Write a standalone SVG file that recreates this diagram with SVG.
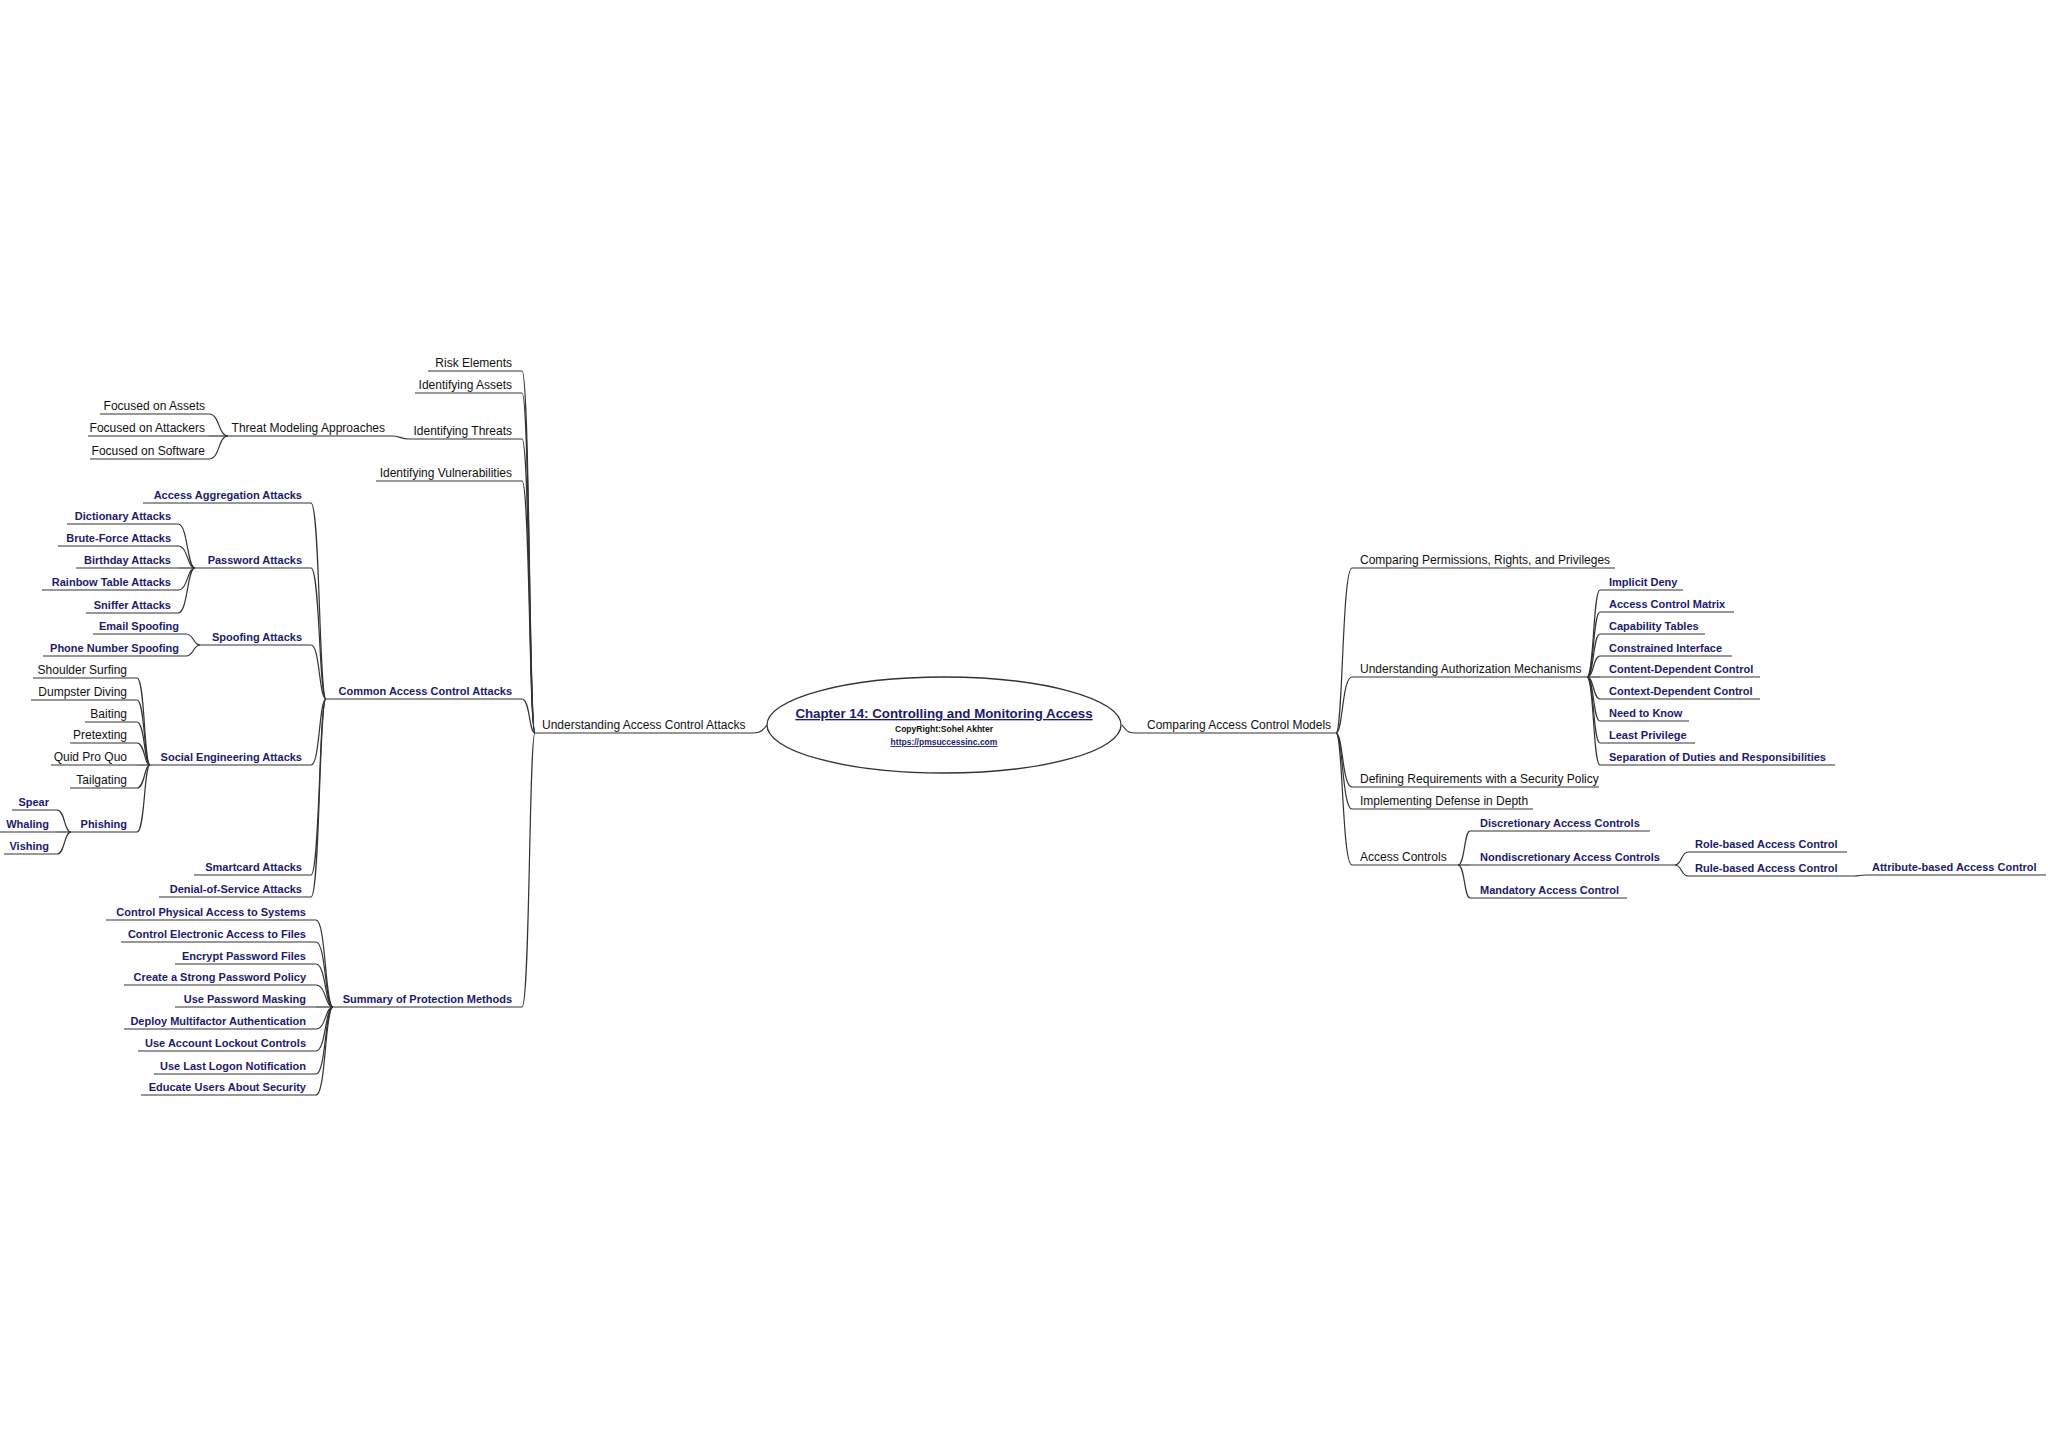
<svg xmlns="http://www.w3.org/2000/svg" width="2048" height="1448" viewBox="0 0 2048 1448">
<style>
text{font-family:"Liberation Sans",Arial,sans-serif}
.n{font-size:12px;fill:#111}
.b{font-size:11px;font-weight:bold;fill:#1b1b6b}
.l{text-anchor:end}
.u{stroke:#333;stroke-width:1.2;fill:none}
.c path{stroke:#333;stroke-width:1.2;fill:none}
</style>
<rect width="2048" height="1448" fill="#fff"/>
<g id="root">
<ellipse cx="944" cy="725" rx="177" ry="48" fill="#fff" stroke="#333" stroke-width="1.3"/>
<text x="944" y="718" text-anchor="middle" font-size="13.3" font-weight="bold" fill="#1b1b6b" text-decoration="underline">Chapter 14: Controlling and Monitoring Access</text>
<text x="944" y="732" text-anchor="middle" font-size="8.5" font-weight="bold" fill="#111">CopyRight:Sohel Akhter</text>
<text x="944" y="745" text-anchor="middle" font-size="8.5" font-weight="bold" fill="#1b1b6b" text-decoration="underline">https://pmsuccessinc.com</text>
</g>
<g class="c" id="connectors">
<path d="M767,725 C761,733 758,733 750,733"/>
<path d="M1122,725 C1128,733 1130,733 1136,733"/>
<path d="M522,371 C530,371 529,733 535,733"/>
<path d="M522,393 C530,393 529,733 535,733"/>
<path d="M522,439 C530,439 529,733 535,733"/>
<path d="M522,481 C530,481 529,733 535,733"/>
<path d="M522,699 C530,699 529,733 535,733"/>
<path d="M522,1007 C530,1007 529,733 535,733"/>
<path d="M392,436 C400,436 400,439 409,439"/>
<path d="M209,414 C220,414 218,436 228,436"/>
<path d="M209,436 L228,436"/>
<path d="M209,459 C220,459 218,436 228,436"/>
<path d="M311,503 C320,503 319,699 326,699"/>
<path d="M311,568 C320,568 319,699 326,699"/>
<path d="M311,645 C320,645 319,699 326,699"/>
<path d="M311,765 C320,765 319,699 326,699"/>
<path d="M311,875 C320,875 319,699 326,699"/>
<path d="M311,897 C320,897 319,699 326,699"/>
<path d="M178,524 C188,524 187,568 195,568"/>
<path d="M178,546 C188,546 187,568 195,568"/>
<path d="M178,568 L195,568"/>
<path d="M178,590 C188,590 187,568 195,568"/>
<path d="M178,613 C188,613 187,568 195,568"/>
<path d="M186,634 C194,634 193,645 200,645"/>
<path d="M186,656 C194,656 193,645 200,645"/>
<path d="M137,678 C145,678 144,765 150,765"/>
<path d="M137,700 C145,700 144,765 150,765"/>
<path d="M137,722 C145,722 144,765 150,765"/>
<path d="M137,743 C145,743 144,765 150,765"/>
<path d="M137,765 L150,765"/>
<path d="M137,788 C145,788 144,765 150,765"/>
<path d="M137,832 C145,832 144,765 150,765"/>
<path d="M57,810 C65,810 64,832 71,832"/>
<path d="M57,832 L71,832"/>
<path d="M57,854 C65,854 64,832 71,832"/>
<path d="M316,920 C326,920 325,1007 333,1007"/>
<path d="M316,942 C326,942 325,1007 333,1007"/>
<path d="M316,964 C326,964 325,1007 333,1007"/>
<path d="M316,985 C326,985 325,1007 333,1007"/>
<path d="M316,1007 L333,1007"/>
<path d="M316,1029 C326,1029 325,1007 333,1007"/>
<path d="M316,1051 C326,1051 325,1007 333,1007"/>
<path d="M316,1074 C326,1074 325,1007 333,1007"/>
<path d="M316,1095 C326,1095 325,1007 333,1007"/>
<path d="M1336,733 C1343,733 1342,568 1352,568"/>
<path d="M1336,733 C1343,733 1342,677 1352,677"/>
<path d="M1336,733 C1343,733 1342,787 1352,787"/>
<path d="M1336,733 C1343,733 1342,809 1352,809"/>
<path d="M1336,733 C1343,733 1342,865 1352,865"/>
<path d="M1587,677 C1594,677 1593,590 1600,590"/>
<path d="M1587,677 C1594,677 1593,612 1600,612"/>
<path d="M1587,677 C1594,677 1593,634 1600,634"/>
<path d="M1587,677 C1594,677 1593,656 1600,656"/>
<path d="M1587,677 L1600,677"/>
<path d="M1587,677 C1594,677 1593,699 1600,699"/>
<path d="M1587,677 C1594,677 1593,721 1600,721"/>
<path d="M1587,677 C1594,677 1593,743 1600,743"/>
<path d="M1587,677 C1594,677 1593,765 1600,765"/>
<path d="M1458,865 C1465,865 1464,831 1470,831"/>
<path d="M1458,865 L1470,865"/>
<path d="M1458,865 C1465,865 1464,898 1470,898"/>
<path d="M1675,865 C1682,865 1681,852 1688,852"/>
<path d="M1675,865 C1682,865 1681,876 1688,876"/>
<path d="M1854,876 C1860,876 1860,875 1866,875"/>
</g>
<g id="n-uaca"><text class="n" x="542" y="729">Understanding Access Control Attacks</text><path class="u" d="M535,733 H750"/></g>
<g id="n-risk"><text class="n l" x="512" y="367">Risk Elements</text><path class="u" d="M428,371 H522"/></g>
<g id="n-assets"><text class="n l" x="512" y="389">Identifying Assets</text><path class="u" d="M415,393 H522"/></g>
<g id="n-threats"><text class="n l" x="512" y="435">Identifying Threats</text><path class="u" d="M409,439 H522"/></g>
<g id="n-vuln"><text class="n l" x="512" y="477">Identifying Vulnerabilities</text><path class="u" d="M376,481 H522"/></g>
<g id="n-tma"><text class="n l" x="385" y="432">Threat Modeling Approaches</text><path class="u" d="M228,436 H392"/></g>
<g id="n-fa1"><text class="n l" x="205" y="410">Focused on Assets</text><path class="u" d="M100,414 H209"/></g>
<g id="n-fa2"><text class="n l" x="205" y="432">Focused on Attackers</text><path class="u" d="M88,436 H209"/></g>
<g id="n-fa3"><text class="n l" x="205" y="455">Focused on Software</text><path class="u" d="M90,459 H209"/></g>
<g id="n-caca"><text class="b l" x="512" y="695">Common Access Control Attacks</text><path class="u" d="M326,699 H522"/></g>
<g id="n-aaa"><text class="b l" x="302" y="499">Access Aggregation Attacks</text><path class="u" d="M143,503 H311"/></g>
<g id="n-pwd"><text class="b l" x="302" y="564">Password Attacks</text><path class="u" d="M195,568 H311"/></g>
<g id="n-dict"><text class="b l" x="171" y="520">Dictionary Attacks</text><path class="u" d="M67,524 H178"/></g>
<g id="n-brute"><text class="b l" x="171" y="542">Brute-Force Attacks</text><path class="u" d="M58,546 H178"/></g>
<g id="n-bday"><text class="b l" x="171" y="564">Birthday Attacks</text><path class="u" d="M76,568 H178"/></g>
<g id="n-rain"><text class="b l" x="171" y="586">Rainbow Table Attacks</text><path class="u" d="M42,590 H178"/></g>
<g id="n-sniff"><text class="b l" x="171" y="609">Sniffer Attacks</text><path class="u" d="M86,613 H178"/></g>
<g id="n-spoof"><text class="b l" x="302" y="641">Spoofing Attacks</text><path class="u" d="M200,645 H311"/></g>
<g id="n-email"><text class="b l" x="179" y="630">Email Spoofing</text><path class="u" d="M93,634 H186"/></g>
<g id="n-phone"><text class="b l" x="179" y="652">Phone Number Spoofing</text><path class="u" d="M43,656 H186"/></g>
<g id="n-social"><text class="b l" x="302" y="761">Social Engineering Attacks</text><path class="u" d="M150,765 H311"/></g>
<g id="n-shoulder"><text class="n l" x="127" y="674">Shoulder Surfing</text><path class="u" d="M33,678 H137"/></g>
<g id="n-dump"><text class="n l" x="127" y="696">Dumpster Diving</text><path class="u" d="M31,700 H137"/></g>
<g id="n-bait"><text class="n l" x="127" y="718">Baiting</text><path class="u" d="M85,722 H137"/></g>
<g id="n-pretext"><text class="n l" x="127" y="739">Pretexting</text><path class="u" d="M70,743 H137"/></g>
<g id="n-quid"><text class="n l" x="127" y="761">Quid Pro Quo</text><path class="u" d="M51,765 H137"/></g>
<g id="n-tail"><text class="n l" x="127" y="784">Tailgating</text><path class="u" d="M70,788 H137"/></g>
<g id="n-phish"><text class="b l" x="127" y="828">Phishing</text><path class="u" d="M71,832 H137"/></g>
<g id="n-spear"><text class="b l" x="49" y="806">Spear</text><path class="u" d="M12,810 H57"/></g>
<g id="n-whal"><text class="b l" x="49" y="828">Whaling</text><path class="u" d="M0,832 H57"/></g>
<g id="n-vish"><text class="b l" x="49" y="850">Vishing</text><path class="u" d="M4,854 H57"/></g>
<g id="n-smart"><text class="b l" x="302" y="871">Smartcard Attacks</text><path class="u" d="M194,875 H311"/></g>
<g id="n-dos"><text class="b l" x="302" y="893">Denial-of-Service Attacks</text><path class="u" d="M159,897 H311"/></g>
<g id="n-summary"><text class="b l" x="512" y="1003">Summary of Protection Methods</text><path class="u" d="M333,1007 H522"/></g>
<g id="n-s1"><text class="b l" x="306" y="916">Control Physical Access to Systems</text><path class="u" d="M106,920 H316"/></g>
<g id="n-s2"><text class="b l" x="306" y="938">Control Electronic Access to Files</text><path class="u" d="M121,942 H316"/></g>
<g id="n-s3"><text class="b l" x="306" y="960">Encrypt Password Files</text><path class="u" d="M175,964 H316"/></g>
<g id="n-s4"><text class="b l" x="306" y="981">Create a Strong Password Policy</text><path class="u" d="M124,985 H316"/></g>
<g id="n-s5"><text class="b l" x="306" y="1003">Use Password Masking</text><path class="u" d="M175,1007 H316"/></g>
<g id="n-s6"><text class="b l" x="306" y="1025">Deploy Multifactor Authentication</text><path class="u" d="M124,1029 H316"/></g>
<g id="n-s7"><text class="b l" x="306" y="1047">Use Account Lockout Controls</text><path class="u" d="M138,1051 H316"/></g>
<g id="n-s8"><text class="b l" x="306" y="1070">Use Last Logon Notification</text><path class="u" d="M154,1074 H316"/></g>
<g id="n-s9"><text class="b l" x="306" y="1091">Educate Users About Security</text><path class="u" d="M141,1095 H316"/></g>
<g id="n-cacm"><text class="n" x="1147" y="729">Comparing Access Control Models</text><path class="u" d="M1136,733 H1336"/></g>
<g id="n-cprp"><text class="n" x="1360" y="564">Comparing Permissions, Rights, and Privileges</text><path class="u" d="M1352,568 H1615"/></g>
<g id="n-uam"><text class="n" x="1360" y="673">Understanding Authorization Mechanisms</text><path class="u" d="M1352,677 H1587"/></g>
<g id="n-id"><text class="b" x="1609" y="586">Implicit Deny</text><path class="u" d="M1600,590 H1683"/></g>
<g id="n-acm"><text class="b" x="1609" y="608">Access Control Matrix</text><path class="u" d="M1600,612 H1734"/></g>
<g id="n-cap"><text class="b" x="1609" y="630">Capability Tables</text><path class="u" d="M1600,634 H1705"/></g>
<g id="n-ci"><text class="b" x="1609" y="652">Constrained Interface</text><path class="u" d="M1600,656 H1732"/></g>
<g id="n-cdc"><text class="b" x="1609" y="673">Content-Dependent Control</text><path class="u" d="M1600,677 H1760"/></g>
<g id="n-cxdc"><text class="b" x="1609" y="695">Context-Dependent Control</text><path class="u" d="M1600,699 H1760"/></g>
<g id="n-ntk"><text class="b" x="1609" y="717">Need to Know</text><path class="u" d="M1600,721 H1689"/></g>
<g id="n-lp"><text class="b" x="1609" y="739">Least Privilege</text><path class="u" d="M1600,743 H1695"/></g>
<g id="n-sod"><text class="b" x="1609" y="761">Separation of Duties and Responsibilities</text><path class="u" d="M1600,765 H1835"/></g>
<g id="n-drsp"><text class="n" x="1360" y="783">Defining Requirements with a Security Policy</text><path class="u" d="M1352,787 H1599"/></g>
<g id="n-idd"><text class="n" x="1360" y="805">Implementing Defense in Depth</text><path class="u" d="M1352,809 H1533"/></g>
<g id="n-ac"><text class="n" x="1360" y="861">Access Controls</text><path class="u" d="M1352,865 H1458"/></g>
<g id="n-dac"><text class="b" x="1480" y="827">Discretionary Access Controls</text><path class="u" d="M1470,831 H1650"/></g>
<g id="n-ndac"><text class="b" x="1480" y="861">Nondiscretionary Access Controls</text><path class="u" d="M1470,865 H1675"/></g>
<g id="n-rbac"><text class="b" x="1695" y="848">Role-based Access Control</text><path class="u" d="M1688,852 H1847"/></g>
<g id="n-rubac"><text class="b" x="1695" y="872">Rule-based Access Control</text><path class="u" d="M1688,876 H1854"/></g>
<g id="n-abac"><text class="b" x="1872" y="871">Attribute-based Access Control</text><path class="u" d="M1866,875 H2046"/></g>
<g id="n-mac"><text class="b" x="1480" y="894">Mandatory Access Control</text><path class="u" d="M1470,898 H1627"/></g>
</svg>
